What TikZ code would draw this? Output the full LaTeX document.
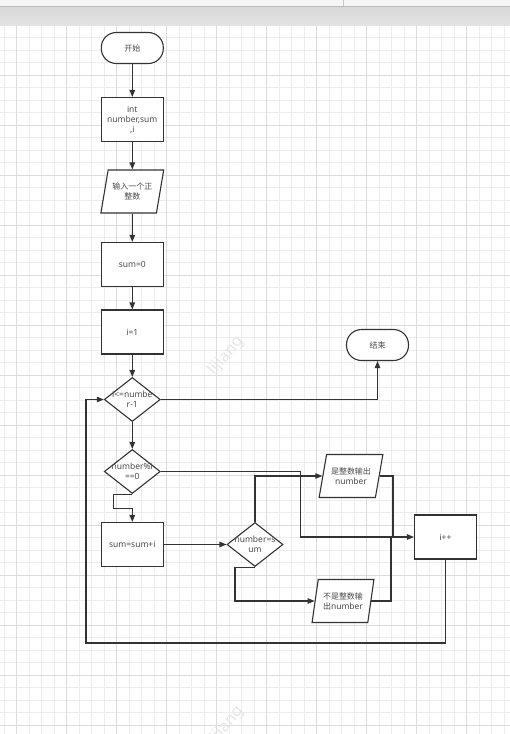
\documentclass[tikz,border=0pt]{standalone}
\usepackage{fontspec}
\setmainfont{Noto Sans}
\newfontfamily\cjk{Noto Sans CJK SC}[Scale=0.94]
\usetikzlibrary{shapes.geometric,arrows.meta}
\definecolor{lc}{HTML}{333333}
\definecolor{tc}{HTML}{4A4A4A}
\definecolor{gmin}{HTML}{EDEDED}
\definecolor{gmaj}{HTML}{DCDCDC}
\definecolor{wm}{HTML}{E6E6E6}
\tikzset{
  txt/.style={font=\fontsize{8.5}{10}\selectfont, text=tc, align=center},
  conn/.style={draw=lc, line width=1.1pt},
  arr/.style={conn, -{Triangle[length=7pt,width=5.5pt]}},
  box/.style={rectangle, draw=lc, line width=1.1pt, fill=white, minimum width=62pt, minimum height=44pt, inner sep=1pt, txt},
  term/.style={rectangle, rounded corners=15pt, draw=lc, line width=1.1pt, fill=white, minimum width=62pt, minimum height=31pt, inner sep=1pt, txt},
  dia/.style={diamond, draw=lc, line width=1.1pt, fill=white, minimum width=56pt, minimum height=44pt, inner sep=0pt},
  dlabel/.style={txt, inner sep=0pt},
  para/.style={trapezium, trapezium stretches=true, draw=lc, line width=1.1pt, fill=white, minimum height=43pt, inner sep=0pt, txt},
  gridmin/.style={draw=gmin, line width=0.7pt},
  gridmaj/.style={draw=gmaj, line width=0.8pt},
}
\begin{document}
\begin{tikzpicture}[x=1pt,y=-1pt]
\useasboundingbox (0,0) rectangle (510,734);
\clip (0,0) rectangle (510,734);
% background
\fill[white] (0,0) rectangle (510,734);
\foreach \i in {0,...,40} \draw[gridmin] ({4.17+12.5*\i},25) -- ({4.17+12.5*\i},734);
\foreach \j in {1,...,57} \draw[gridmin] (0,{25+12.5*\j}) -- (510,{25+12.5*\j});
\foreach \i in {0,...,10} \draw[gridmaj] ({16.67+50*\i},25) -- ({16.67+50*\i},734);
\foreach \j in {1,...,15} \draw[gridmaj] (0,{25+50*\j}) -- (510,{25+50*\j});
% top bars
\fill[gray!8] (0,0) rectangle (510,6.5);
\draw[gray!45, line width=0.8pt] (343.5,0) -- (343.5,6.5);
\shade[top color=gray!30, bottom color=gray!22] (0,6.5) rectangle (510,25);
\draw[gray!55, line width=0.8pt] (0,6.5) -- (510,6.5);
% watermarks
\node[rotate=50, text=wm, font=\bfseries\fontsize{16}{16}\selectfont] (wm1) at (226,356) {lijiang};
\node[rotate=50, text=wm, font=\bfseries\fontsize{16}{16}\selectfont] (wm2) at (226,726) {lijiang};

% nodes
\node[term] (start) at (132.3,48) {{\cjk 开始}};
\node[box] (decl) at (132.3,119.5) {int\\number,sum\\,i};
\node[para, minimum width=63pt, trapezium left angle=71, trapezium right angle=109] (input) at (132.3,191.5) {{\cjk 输入一个正}\\{\cjk 整数}};
\node[box] (sum0) at (132.3,264.5) {sum=0};
\node[box] (i1) at (132.3,332) {i=1};
\node[dia, label={[dlabel]center:{i<=numbe\\r-1}}] (d1) at (132.3,399.5) {};
\node[dia, label={[dlabel]center:{number\%i\\==0}}] (d2) at (132.3,471.5) {};
\node[box] (acc) at (132.3,544.5) {sum=sum+i};
\node[dia, label={[dlabel]center:{number=s\\um}}] (d3) at (255,544.5) {};
\node[para, minimum width=64pt, trapezium left angle=70, trapezium right angle=110] (yes) at (351,476) {{\cjk 是整数输出}\\number};
\node[para, minimum width=62pt, trapezium left angle=74, trapezium right angle=106] (no) at (343,601) {{\cjk 不是整数输}\\{\cjk 出}number};
\node[box] (inc) at (445.5,537) {i++};
\node[term] (end) at (377.5,345) {{\cjk 结束}};

\coordinate (j1) at (393,537);
\coordinate (j2) at (391,537);
\coordinate (back) at (86,643);

% connectors
\draw[arr] (start) -- (decl);
\draw[arr] (decl) -- (input);
\draw[arr] (input) -- (sum0);
\draw[arr] (sum0) -- (i1);
\draw[arr] (i1) -- (d1);
\draw[arr] (d1.east) -| (end.south);
\draw[arr] (d1) -- (d2);
\draw[arr] (d2.south) -- ++(-19,0) -- ++(0,14.7) -| (acc.north);
\draw[arr] (acc.east) -- (d3.west);
\draw[arr] (d2.east) -- ++(139.5,0) |- (inc.west);
\draw[arr] (d3.north) |- (yes.west);
\draw[conn] (yes.east) -| (j1);
\draw[arr] (d3.south) -- ++(-20,0) |- (no.west);
\draw[conn] (no.east) -| (j2);
\draw[arr] (inc.south) |- (back) |- (d1.west);
\end{tikzpicture}
\end{document}
